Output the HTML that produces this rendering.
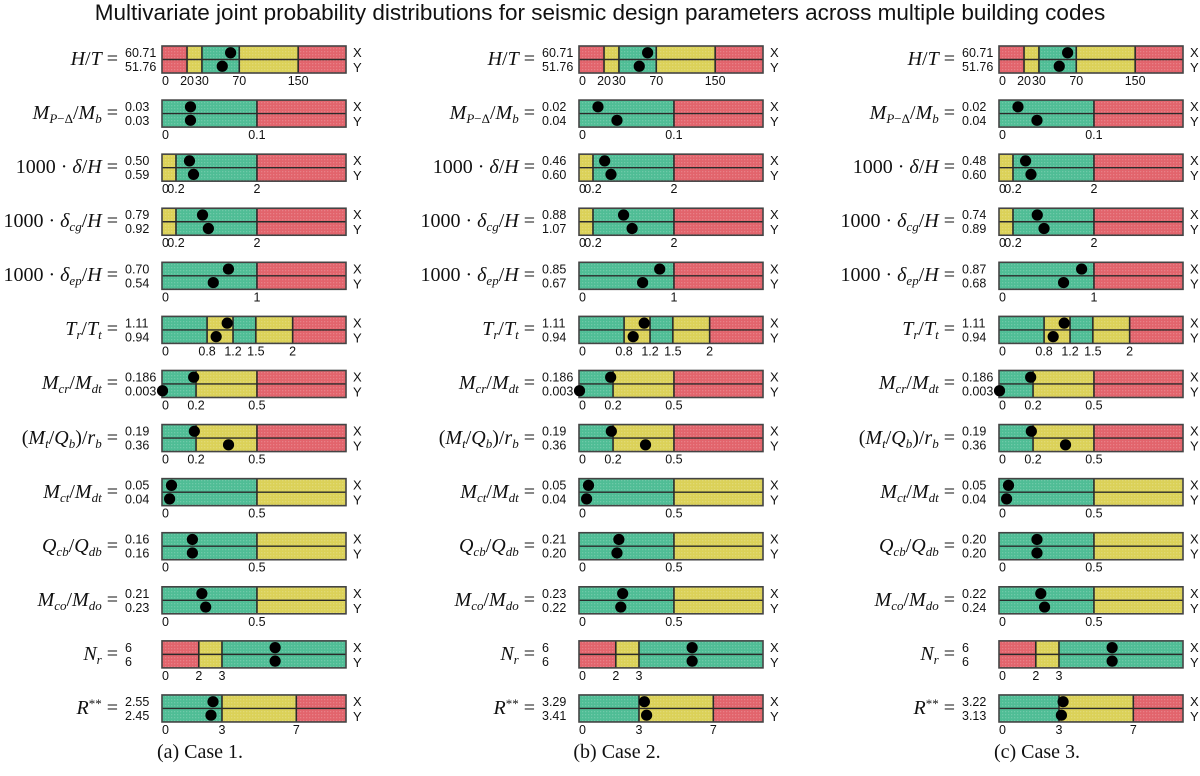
<!DOCTYPE html>
<html><head><meta charset="utf-8">
<style>
body{margin:0;background:#fff;width:1200px;height:776px;overflow:hidden;position:relative;font-family:"Liberation Sans",sans-serif}
#title{position:absolute;left:0;top:0px;width:1200px;text-align:center;font-size:22.5px;color:#111;white-space:nowrap}
.lbl{position:absolute;font-family:"Liberation Serif",serif;font-size:20px;color:#111;text-align:right;white-space:nowrap;line-height:20px}
.lbl i{font-style:italic}
.lbl sub{font-size:13px;vertical-align:-4px;line-height:0}
.lbl sup{font-size:13px;vertical-align:6px;line-height:0}
.cap{position:absolute;top:741px;font-family:"Liberation Serif",serif;font-size:20px;color:#111;text-align:center;width:300px}
svg{position:absolute;left:0;top:0}
</style></head><body>
<div id="title">Multivariate joint probability distributions for seismic design parameters across multiple building codes</div>
<svg id="chart" width="1200" height="776"></svg>
<div id="labels"></div>
<script>
// ---- data ----
const paramLabels = [
 '<i>H</i>/<i>T</i> =',
 '<i>M</i><sub><i>P</i>−Δ</sub>/<i>M</i><sub><i>b</i></sub> =',
 '1000 · <i>δ</i>/<i>H</i> =',
 '1000 · <i>δ</i><sub><i>cg</i></sub>/<i>H</i> =',
 '1000 · <i>δ</i><sub><i>ep</i></sub>/<i>H</i> =',
 '<i>T</i><sub><i>r</i></sub>/<i>T</i><sub><i>t</i></sub> =',
 '<i>M</i><sub><i>cr</i></sub>/<i>M</i><sub><i>dt</i></sub> =',
 '(<i>M</i><sub><i>t</i></sub>/<i>Q</i><sub><i>b</i></sub>)/<i>r</i><sub><i>b</i></sub> =',
 '<i>M</i><sub><i>ct</i></sub>/<i>M</i><sub><i>dt</i></sub> =',
 '<i>Q</i><sub><i>cb</i></sub>/<i>Q</i><sub><i>db</i></sub> =',
 '<i>M</i><sub><i>co</i></sub>/<i>M</i><sub><i>do</i></sub> =',
 '<i>N</i><sub><i>r</i></sub> =',
 '<i>R</i><sup>**</sup> ='
];
const paramNames = ['h-over-t','mpd-over-mb','drift','drift-cg','drift-ep','tr-over-tt','mcr-over-mdt','mt-qb-rb','mct-over-mdt','qcb-over-qdb','mco-over-mdo','nr','r-star'];
// zone break values (start..end) per parameter
const breaks = [
 [0,20,30,70,150,200],[0,0.1,0.2],[0,0.2,2,4],[0,0.2,2,4],[0,1,2],
 [0,0.8,1.2,1.5,2,3],[0,0.2,0.5,1],[0,0.2,0.5,1],[0,0.5,1],[0,0.5,1],[0,0.5,1],
 [0,2,3,10],[0,3,7,10]
];
const tickLabels = [
 ['0','20','30','70','150'],['0','0.1'],['0','0.2','2'],['0','0.2','2'],['0','1'],
 ['0','0.8','1.2','1.5','2'],['0','0.2','0.5'],['0','0.2','0.5'],['0','0.5'],['0','0.5'],['0','0.5'],
 ['0','2','3'],['0','3','7']
];
const zones = ['rygyr','gr','ygr','ygr','gr','gygyr','gyr','gyr','gy','gy','gy','ryg','gyr'];
const case1X = [60.71,0.03,0.50,0.79,0.70,1.11,0.186,0.19,0.05,0.16,0.21,6,2.55];
const case1Y = [51.76,0.03,0.59,0.92,0.54,0.94,0.003,0.36,0.04,0.16,0.23,6,2.45];
const case2X = [60.71,0.02,0.46,0.88,0.85,1.11,0.186,0.19,0.05,0.21,0.23,6,3.29];
const case2Y = [51.76,0.04,0.60,1.07,0.67,0.94,0.003,0.36,0.04,0.20,0.22,6,3.41];
const case3X = [60.71,0.02,0.48,0.74,0.87,1.11,0.186,0.19,0.05,0.20,0.22,6,3.22];
const case3Y = [51.76,0.04,0.60,0.89,0.68,0.94,0.003,0.36,0.04,0.20,0.24,6,3.13];
const xText = [
 ['60.71','0.03','0.50','0.79','0.70','1.11','0.186','0.19','0.05','0.16','0.21','6','2.55'],
 ['60.71','0.02','0.46','0.88','0.85','1.11','0.186','0.19','0.05','0.21','0.23','6','3.29'],
 ['60.71','0.02','0.48','0.74','0.87','1.11','0.186','0.19','0.05','0.20','0.22','6','3.22']];
const yText = [
 ['51.76','0.03','0.59','0.92','0.54','0.94','0.003','0.36','0.04','0.16','0.23','6','2.45'],
 ['51.76','0.04','0.60','1.07','0.67','0.94','0.003','0.36','0.04','0.20','0.22','6','3.41'],
 ['51.76','0.04','0.60','0.89','0.68','0.94','0.003','0.36','0.04','0.20','0.24','6','3.13']];
const caseNames = ['(a) Case 1.','(b) Case 2.','(c) Case 3.'];
// ---- layout (not data) ----
const breakFrac = [
 [0,.136,.217,.42,.74,1],[0,.516,1],[0,.076,.516,1],[0,.076,.516,1],[0,.516,1],
 [0,.245,.386,.51,.71,1],[0,.185,.516,1],[0,.185,.516,1],[0,.516,1],[0,.516,1],[0,.516,1],
 [0,.2,.326,1],[0,.326,.73,1]
];
const colStart=[162,579,999], barW=184, top0=46, pitch=54.08, barH=27;
const colors={r:'#e2646c',y:'#dbd158',g:'#4fbd95'};
const NS='http://www.w3.org/2000/svg';
const svg=document.getElementById('chart');
const labelsDiv=document.getElementById('labels');
function mk(t,a,p){const e=document.createElementNS(NS,t);for(const k in a)e.setAttribute(k,a[k]);(p||svg).appendChild(e);return e;}
function xScale(row,v,c){
 const b=breaks[row],f=breakFrac[row];
 for(let i=0;i<b.length-1;i++){
  if(v<=b[i+1]||i==b.length-2){const t=(v-b[i])/(b[i+1]-b[i]);return colStart[c]+barW*(f[i]+t*(f[i+1]-f[i]));}
 }
}
const defs=mk('defs',{});
const pat=mk('pattern',{id:'dots',width:3,height:3,patternUnits:'userSpaceOnUse'},defs);
mk('rect',{x:0,y:0,width:1.3,height:1.3,fill:'rgba(255,255,255,0.18)'},pat);
const Xs=[case1X,case2X,case3X],Ys=[case1Y,case2Y,case3Y];
for(let c=0;c<3;c++){
 const g=mk('g',{});
 
 
 for(let r=0;r<13;r++){
  const y0=top0+r*pitch, b=breaks[r];
  const rg=mk('g',{},g);
  
  
  for(let i=0;i<b.length-1;i++){
   const xa=xScale(r,b[i],c), xb=xScale(r,b[i+1],c);
   const z=mk('rect',{x:xa,y:y0,width:xb-xa,height:barH,fill:colors[zones[r][i]]},rg);
   
   
   mk('rect',{x:xa,y:y0,width:xb-xa,height:barH,fill:'url(#dots)'},rg);
   if(i>0) mk('line',{x1:xa,x2:xa,y1:y0,y2:y0+barH,stroke:'#2a2a2a','stroke-width':1.6},rg);
  }
  mk('line',{x1:colStart[c],x2:colStart[c]+barW,y1:y0+barH/2,y2:y0+barH/2,stroke:'#2a2a2a','stroke-width':1.4},rg);
  mk('rect',{x:colStart[c],y:y0,width:barW,height:barH,fill:'none',stroke:'#444','stroke-width':1.6},rg);
  tickLabels[r].forEach((t,i)=>{
   const tx=mk('text',{x:xScale(r,b[i],c)+(i==0?0:0),y:y0+barH+12,'font-size':12.5,'text-anchor':(i==0?'start':'middle'),fill:'#111'},rg);
   tx.textContent=t;
   
   
  });
  const dx=mk('circle',{cx:xScale(r,Xs[c][r],c),cy:y0+barH*0.25,r:5.6,fill:'#000'},rg);
  
  
  const dy=mk('circle',{cx:xScale(r,Ys[c][r],c),cy:y0+barH*0.75,r:5.6,fill:'#000'},rg);
  
  
  const vx=mk('text',{x:colStart[c]-37,y:y0+11,'font-size':12.5,fill:'#111'},rg);
  vx.textContent=xText[c][r];
  
  
  const vy=mk('text',{x:colStart[c]-37,y:y0+25,'font-size':12.5,fill:'#111'},rg);
  vy.textContent=yText[c][r];
  
  
  const lx=mk('text',{x:colStart[c]+barW+7,y:y0+11,'font-size':13,fill:'#111'},rg);
  lx.textContent='X';
  
  
  const ly=mk('text',{x:colStart[c]+barW+7,y:y0+26,'font-size':13,fill:'#111'},rg);
  ly.textContent='Y';
  
  
  const d=document.createElement('div');
  d.className='lbl';
  d.style.right=(1200-(colStart[c]-44))+'px';
  d.style.top=(y0+3)+'px';
  d.innerHTML=paramLabels[r];
  
  
  labelsDiv.appendChild(d);
 }
 const cp=document.createElement('div');
 cp.className='cap';
 cp.style.left=(colStart[c]+38-150)+'px';
 cp.textContent=caseNames[c];
 
 
 labelsDiv.appendChild(cp);
}
</script>
</body></html>
